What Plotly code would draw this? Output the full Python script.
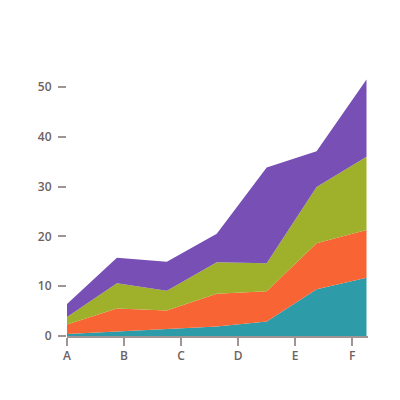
import plotly.graph_objects as go

# x positions of the samples, and category labels on the axis
x_points = [0, 1, 2, 3, 4, 5, 6]
tick_labels = ["A", "B", "C", "D", "E", "F"]
tick_pos = [0, 8 / 7, 16 / 7, 24 / 7, 32 / 7, 40 / 7]

# stacked series (bottom to top)
teal = [0.4, 0.9, 1.3, 1.9, 2.9, 9.4, 11.7]
orange = [1.9, 4.6, 3.8, 6.6, 6.1, 9.2, 9.6]
green = [1.5, 5.1, 4.0, 6.3, 5.6, 11.3, 14.7]
purple = [2.6, 5.1, 5.8, 5.7, 19.2, 7.2, 15.5]

series = [
    ("Series 1", teal, "#2e9ca8"),
    ("Series 2", orange, "#f86434"),
    ("Series 3", green, "#9fb12a"),
    ("Series 4", purple, "#7850b5"),
]

fig = go.Figure()
for name, vals, col in series:
    fig.add_trace(go.Scatter(
        x=x_points, y=vals, name=name, mode="lines",
        stackgroup="one", line=dict(width=0, color=col),
        fillcolor=col,
    ))

axis_col = "#a09494"
label_font = dict(family="Open Sans", size=12, color="#6d6262", weight=600)

# page body adds 8px, so the margins are shifted to compensate
fig.update_layout(
    width=400, height=400,
    margin=dict(l=59, r=40, t=54, b=72),
    paper_bgcolor="white", plot_bgcolor="white",
    showlegend=False,
    xaxis=dict(
        range=[0, 6.03], tickvals=tick_pos, ticktext=tick_labels,
        showgrid=False, zeroline=False,
        showline=True, linecolor=axis_col, linewidth=2,
        ticks="outside", ticklen=8, tickwidth=2, tickcolor=axis_col,
        tickfont=label_font,
    ),
    yaxis=dict(
        range=[0, 55], tickvals=[0, 10, 20, 30, 40, 50],
        showgrid=False, zeroline=False, showline=False,
        ticks="outside", ticklen=8, tickwidth=2, tickcolor=axis_col,
        tickfont=label_font, ticklabelstandoff=4,
    ),
)

fig.write_html("out.html")
